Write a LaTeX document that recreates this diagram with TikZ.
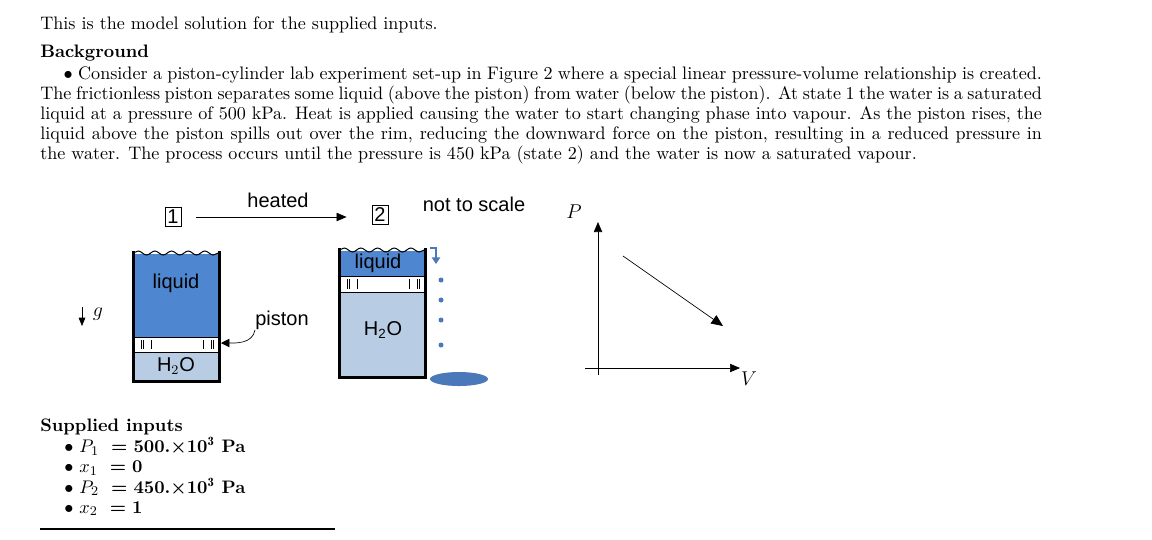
\documentclass[tikz,border=0pt]{standalone}
\usepackage{amsmath}
\usepackage{amssymb}
\usepackage{fontspec}
\newfontfamily\figfont{Liberation Sans}
\usetikzlibrary{positioning,arrows.meta,decorations.pathmorphing}
\definecolor{darkwater}{HTML}{4F86D0}
\definecolor{lightwater}{HTML}{B8CCE4}
\definecolor{dropblue}{HTML}{4A78B8}

\begin{document}
\begin{tikzpicture}[x=0.6pt,y=-0.6pt,
  txt/.style={anchor=north west,inner sep=0pt,align=justify,text width=601pt,font=\fontsize{10.85}{12}\selectfont},
  lbl/.style={inner sep=1pt,font=\figfont\fontsize{12}{14}\selectfont},
  state box/.style={draw,thin,inner sep=1.5pt,font=\figfont\fontsize{12}{14}\selectfont},
  wall/.style={line width=1.8pt},
  piston/.style={draw,fill=white,thin},
  axis/.style={thin,-{Triangle[length=6pt,width=5pt]}}]
  \useasboundingbox (0,0) rectangle (1152,539);

  % text above
  \node[txt] (intro) at (40,16) {This is the model solution for the supplied inputs.};
  \node[txt] (bghead) at (40,45) {\textbf{Background}};
  \node[txt] (bgtext) at (40,66) {\hspace*{14pt}$\bullet$ Consider a piston-cylinder lab experiment set-up in Figure 2 where a special linear pressure-volume relationship is created. The frictionless piston separates some liquid (above the piston) from water (below the piston). At state 1 the water is a saturated liquid at a pressure of 500 kPa. Heat is applied causing the water to start changing phase into vapour. As the piston rises, the liquid above the piston spills out over the rim, reducing the downward force on the piston, resulting in a reduced pressure in the water. The process occurs until the pressure is 450 kPa (state 2) and the water is now a saturated vapour.};

  % states
  \node[state box] (s1) at (173,217) {1};
  \node[state box] (s2) at (380,215) {2};
  \draw[-{Triangle[length=6pt,width=5pt]}] (s1.east) ++(15,0) coordinate (h0) -- ([xshift=-15]s2.west|-h0);
  \node[lbl] (heated) at (278,200) {heated};
  \node[lbl] (noscale) at (474,204) {not to scale};

  % cylinder 1
  \fill[darkwater] (133,254) rectangle (219,337);
  \fill[lightwater] (133,352) rectangle (219,381);
  \draw[semithick,decorate,decoration={snake,amplitude=1.2,segment length=10}] (133,253) -- (219,253);
  \draw[piston] (134,337) rectangle (218,352);
  \foreach \xx in {141,143,151,203,211,213} \draw[thin] (\xx,340) -- (\xx,349);
  \draw[wall] (133,251) -- (133,381) -- (219,381) -- (219,251);
  \node[lbl] (liq1) at (176,283) {liquid};
  \node[lbl] (wat1) at (176,366) {H$_2$O};
  \node[lbl] (pist) at (282,320) {piston};
  \draw[-{Triangle[length=5pt,width=5pt]}] (255,330) to[out=-100,in=0] (221,343);
  \draw[-{Triangle[length=5pt,width=4pt]}] (82,307) coordinate (g0) -- (82,326) coordinate (g1);
  \node[lbl,font=\large] (grav) at (98,314) {$g$};

  % cylinder 2
  \fill[darkwater] (339,251) rectangle (425,276);
  \fill[lightwater] (339,292) rectangle (425,377);
  \draw[semithick,decorate,decoration={snake,amplitude=1.2,segment length=10}] (339,250) -- (425,250);
  \draw[piston] (340,276) rectangle (424,292);
  \foreach \xx in {347,349,357,409,417,419} \draw[thin] (\xx,279) -- (\xx,289);
  \draw[wall] (339,248) -- (339,377) -- (425,377) -- (425,248);
  \node[lbl] (liq2) at (378,263) {liquid};
  \node[lbl] (wat2) at (383,330) {H$_{\text{2}}$O};
  \draw[dropblue,line width=1.5pt,-{Triangle[length=4pt,width=5pt]}] (430,248) -- (436,248) -- (436,264);
  \foreach \yy in {280,300,320,345} \fill[dropblue] (441,\yy) circle (2.5);
  \fill[dropblue] (459,379) ellipse (29 and 7);

  % P-V diagram
  \draw[axis] (598,375) -- (598,222);
  \draw[axis] (585,368) -- (740,368);
  \node[lbl,font=\large] (pp) at (574,212) {$P$};
  \node[lbl,font=\large] (vv) at (749,379) {$V$};
  \draw[-{Triangle[length=7pt,width=6pt]}] (623,256) -- (723,326);

  % supplied inputs
  \node[txt] (inhead) at (40,419) {\textbf{Supplied inputs}};
  \node[txt,text width=300pt] (inlist) at (64,437) {\begin{tabular}{@{}l@{}}
    $\bullet$ $P_1$ \ $\boldsymbol{=}$ \textbf{500.$\boldsymbol{\times}$10$^{\mathbf{3}}$ Pa}\\
    $\bullet$ $x_1$ \ $\boldsymbol{=}$ \textbf{0}\\
    $\bullet$ $P_2$ \ $\boldsymbol{=}$ \textbf{450.$\boldsymbol{\times}$10$^{\mathbf{3}}$ Pa}\\
    $\bullet$ $x_2$ \ $\boldsymbol{=}$ \textbf{1}
  \end{tabular}};
  \draw[line width=1pt] (40,529) -- (335,529);
\end{tikzpicture}
\end{document}
